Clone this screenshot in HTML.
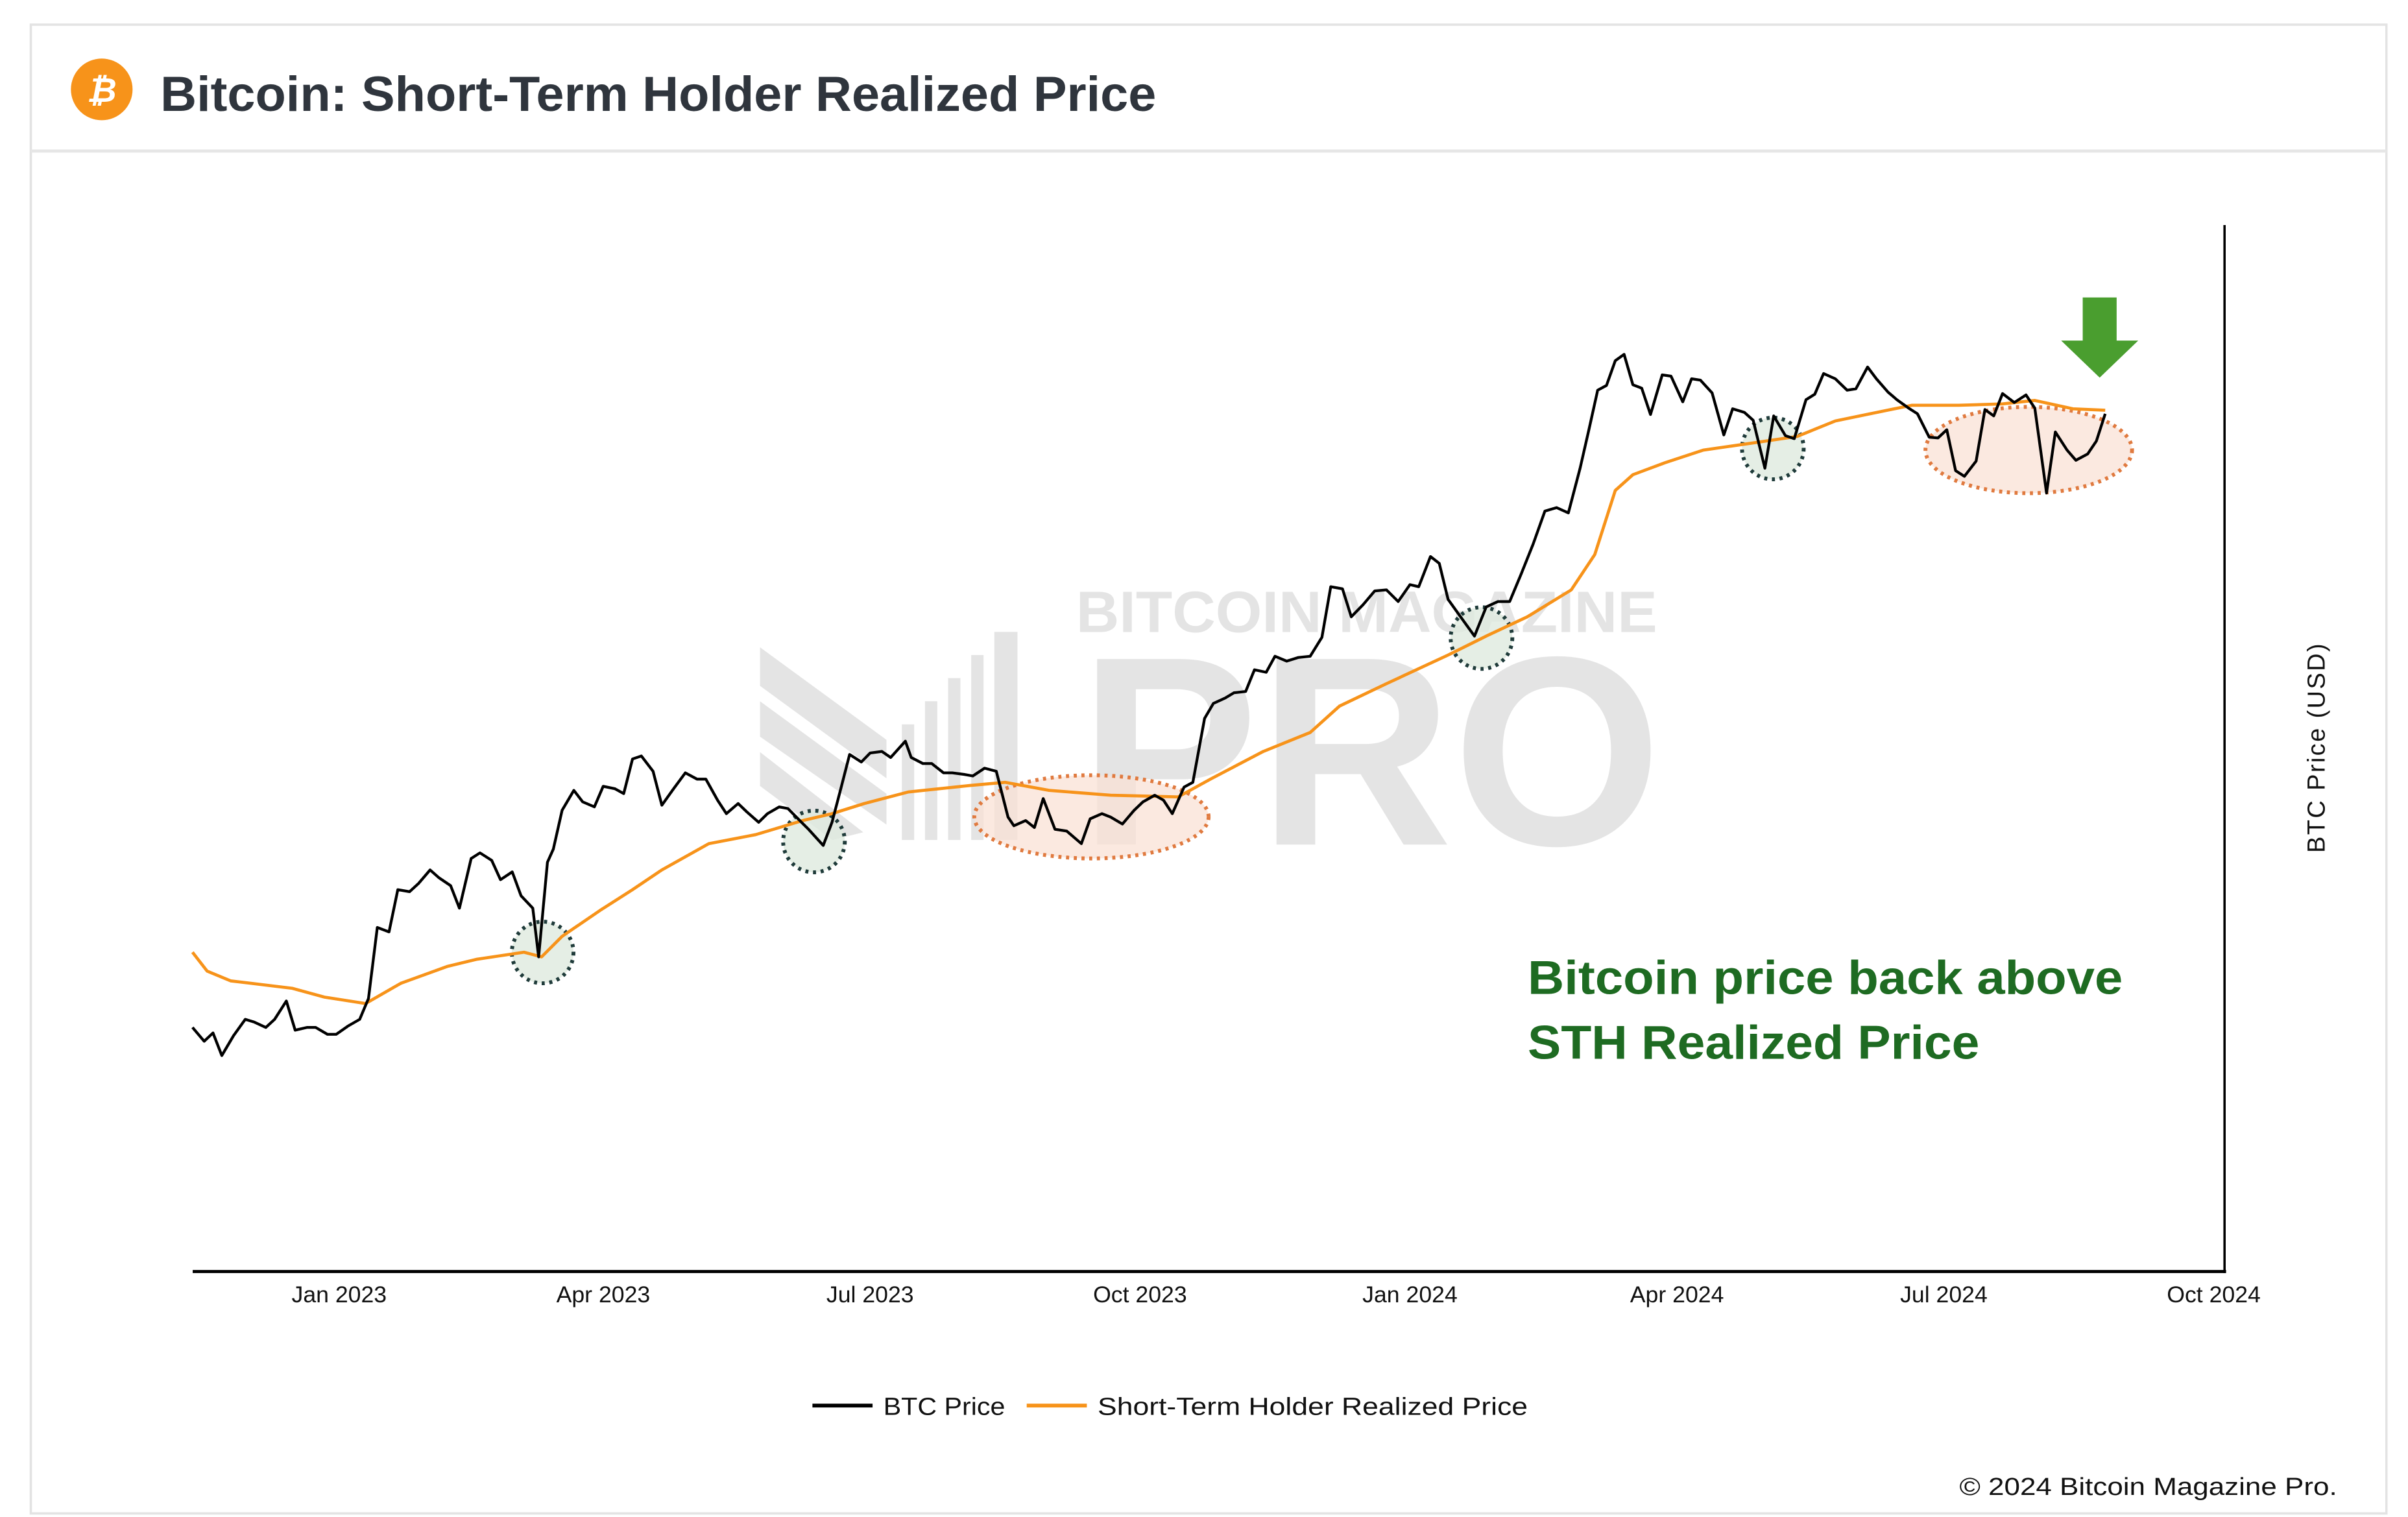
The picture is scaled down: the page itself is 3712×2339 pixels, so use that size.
<!DOCTYPE html>
<html><head><meta charset="utf-8">
<style>
html,body{margin:0;padding:0;background:#fff;}
svg{display:block;}
text{font-family:"Liberation Sans",sans-serif;}
</style></head>
<body>
<svg id="chart" width="3712" height="2339" viewBox="0 0 1562 984.3" preserveAspectRatio="none" xmlns="http://www.w3.org/2000/svg">
  <rect x="20" y="16" width="1528" height="966" fill="#fff" stroke="#e3e3e3" stroke-width="1.5"/>
  <line x1="20" y1="98" x2="1548" y2="98" stroke="#e6e6e6" stroke-width="2"/>
  <g>
    <circle cx="66" cy="58" r="20" fill="#f7931a"/>
    <text x="66" y="66" text-anchor="middle" font-size="22" font-weight="bold" fill="#fff" font-style="italic">₿</text>
  </g>
  <text x="104" y="72" font-size="32" font-weight="bold" fill="#2f353d" textLength="646" lengthAdjust="spacingAndGlyphs">Bitcoin: Short-Term Holder Realized Price</text>

  <g fill="#e4e4e4">
    <text x="698" y="410" font-size="38" font-weight="bold" textLength="377" lengthAdjust="spacingAndGlyphs">BITCOIN MAGAZINE</text>
    <text x="700" y="548" font-size="175" font-weight="bold" textLength="378" lengthAdjust="spacingAndGlyphs">PRO</text>
    <polygon points="493,420 575,480 575,505 493,445"/>
    <polygon points="493,455 575,515 575,535 493,478"/>
    <polygon points="493,488 560,540 540,545 493,510"/>
    <rect x="585" y="470" width="8" height="75"/>
    <rect x="600" y="455" width="8" height="90"/>
    <rect x="615" y="440" width="8" height="105"/>
    <rect x="630" y="425" width="8" height="120"/>
    <rect x="645" y="410" width="15" height="135"/>
  </g>

  <g id="annot-back">
    <ellipse cx="708" cy="530" rx="76" ry="27" fill="#f9e2d6" fill-opacity="0.75" stroke="#e07a3f" stroke-width="2.5" stroke-dasharray="2,3"/>
    <ellipse cx="1316" cy="292" rx="67" ry="28" fill="#f9e2d6" fill-opacity="0.75" stroke="#e07a3f" stroke-width="2.5" stroke-dasharray="2,3"/>
    <circle cx="352" cy="618" r="20" fill="#dfeadf" fill-opacity="0.8" stroke="#1f3b3a" stroke-width="2.5" stroke-dasharray="2,3"/>
    <circle cx="528" cy="546" r="20" fill="#dfeadf" fill-opacity="0.8" stroke="#1f3b3a" stroke-width="2.5" stroke-dasharray="2,3"/>
    <circle cx="961" cy="414" r="20" fill="#dfeadf" fill-opacity="0.8" stroke="#1f3b3a" stroke-width="2.5" stroke-dasharray="2,3"/>
    <circle cx="1150" cy="291" r="20" fill="#dfeadf" fill-opacity="0.8" stroke="#1f3b3a" stroke-width="2.5" stroke-dasharray="2,3"/>
  </g>

  <g id="series"></g>

  <line x1="125" y1="825" x2="1444" y2="825" stroke="#000" stroke-width="2"/>
  <line x1="1443" y1="146" x2="1443" y2="826" stroke="#000" stroke-width="1.5"/>
  <g id="xticks"></g>
  <text transform="translate(1508,485) rotate(-90)" text-anchor="middle" font-size="16" fill="#111" letter-spacing="1">BTC Price (USD)</text>

  <g fill="#4a9e2f">
    <rect x="1351" y="193" width="22" height="29"/>
    <polygon points="1337,221 1387,221 1362,245"/>
  </g>
  <text x="991" y="645" font-size="31" font-weight="bold" fill="#1e6b22" textLength="386" lengthAdjust="spacingAndGlyphs">Bitcoin price back above</text>
  <text x="991" y="687" font-size="31" font-weight="bold" fill="#1e6b22" textLength="293" lengthAdjust="spacingAndGlyphs">STH Realized Price</text>

  <g>
    <g>
      <line x1="527" y1="912" x2="566" y2="912" stroke="#000" stroke-width="2.5"/>
      <text x="573" y="918" font-size="16" fill="#111" textLength="79" lengthAdjust="spacingAndGlyphs">BTC Price</text>
    </g>
    <g>
      <line x1="666" y1="912" x2="705" y2="912" stroke="#f7931a" stroke-width="2.5"/>
      <text x="712" y="918" font-size="16" fill="#111" textLength="279" lengthAdjust="spacingAndGlyphs">Short-Term Holder Realized Price</text>
    </g>
  </g>
  <text x="1516" y="970" text-anchor="end" font-size="16" fill="#111" textLength="245" lengthAdjust="spacingAndGlyphs">© 2024 Bitcoin Magazine Pro.</text>
</svg>
<script>
const btcDates = ["2022-11-12","2022-11-16","2022-11-19","2022-11-22","2022-11-26","2022-11-30","2022-12-03","2022-12-07","2022-12-10","2022-12-14","2022-12-17","2022-12-21","2022-12-24","2022-12-28","2022-12-31","2023-01-04","2023-01-08","2023-01-11","2023-01-14","2023-01-18","2023-01-21","2023-01-25","2023-01-28","2023-02-01","2023-02-04","2023-02-08","2023-02-11","2023-02-15","2023-02-18","2023-02-22","2023-02-25","2023-03-01","2023-03-04","2023-03-08","2023-03-10","2023-03-13","2023-03-15","2023-03-18","2023-03-22","2023-03-25","2023-03-29","2023-04-01","2023-04-05","2023-04-08","2023-04-11","2023-04-14","2023-04-18","2023-04-21","2023-04-25","2023-04-29","2023-05-03","2023-05-06","2023-05-10","2023-05-13","2023-05-17","2023-05-20","2023-05-24","2023-05-27","2023-05-31","2023-06-03","2023-06-07","2023-06-10","2023-06-15","2023-06-18","2023-06-21","2023-06-24","2023-06-28","2023-07-01","2023-07-05","2023-07-08","2023-07-13","2023-07-15","2023-07-19","2023-07-22","2023-07-26","2023-07-29","2023-08-02","2023-08-05","2023-08-09","2023-08-13","2023-08-17","2023-08-19","2023-08-23","2023-08-26","2023-08-29","2023-09-02","2023-09-06","2023-09-11","2023-09-14","2023-09-18","2023-09-21","2023-09-25","2023-09-29","2023-10-02","2023-10-06","2023-10-09","2023-10-12","2023-10-16","2023-10-19","2023-10-23","2023-10-26","2023-10-30","2023-11-02","2023-11-06","2023-11-09","2023-11-13","2023-11-16","2023-11-20","2023-11-24","2023-11-28","2023-12-02","2023-12-05","2023-12-09","2023-12-12","2023-12-16","2023-12-20","2023-12-24","2023-12-28","2024-01-01","2024-01-04","2024-01-08","2024-01-11","2024-01-14","2024-01-18","2024-01-23","2024-01-27","2024-01-31","2024-02-04","2024-02-08","2024-02-12","2024-02-16","2024-02-20","2024-02-24","2024-02-28","2024-03-02","2024-03-05","2024-03-08","2024-03-11","2024-03-14","2024-03-17","2024-03-20","2024-03-23","2024-03-27","2024-03-30","2024-04-03","2024-04-06","2024-04-09","2024-04-13","2024-04-17","2024-04-20","2024-04-24","2024-04-27","2024-05-01","2024-05-04","2024-05-08","2024-05-11","2024-05-15","2024-05-18","2024-05-21","2024-05-25","2024-05-29","2024-06-01","2024-06-05","2024-06-08","2024-06-12","2024-06-15","2024-06-19","2024-06-22","2024-06-26","2024-06-29","2024-07-02","2024-07-05","2024-07-08","2024-07-12","2024-07-15","2024-07-18","2024-07-21","2024-07-25","2024-07-29","2024-08-01","2024-08-05","2024-08-08","2024-08-12","2024-08-15","2024-08-19","2024-08-22","2024-08-25"];
const btcPrice = [16800,16300,16600,15800,16500,17100,17000,16800,17100,17800,16700,16800,16800,16550,16550,16850,17100,17900,20900,20700,22700,22600,23000,23700,23300,22900,21800,24300,24600,24200,23200,23600,22400,21800,19600,24100,24800,27000,28200,27500,27200,28450,28300,28000,30200,30400,29400,27300,28300,29300,28900,28900,27600,26800,27400,26900,26300,26800,27200,27100,26400,25900,25000,26300,28300,30500,30000,30600,30700,30300,31400,30300,29900,29900,29300,29300,29200,29100,29600,29400,26600,26100,26400,26000,27700,25900,25800,25100,26500,26800,26600,26200,27000,27500,27900,27600,26800,28400,28700,33000,34100,34500,34900,35000,36700,36500,37800,37400,37700,37800,39400,44000,43800,41200,42300,43600,43700,42600,44200,44000,47000,46300,42800,41300,39500,42100,42600,42600,45300,48300,51900,52300,51700,57000,62000,67600,68300,72100,73100,68400,67900,64100,69900,69700,65900,69300,69100,67200,61300,64900,64400,63300,57000,63900,61200,60800,66200,67000,70100,69300,67600,67800,71100,69300,67300,66200,65000,64200,61000,60900,62000,56700,56000,57900,64800,63900,67100,65800,66900,65000,54000,61700,59300,58000,58800,60500,64200];
const sthDates = ["2022-11-12","2022-11-17","2022-11-25","2022-12-16","2022-12-27","2023-01-10","2023-01-22","2023-02-07","2023-02-17","2023-03-05","2023-03-11","2023-03-18","2023-03-31","2023-04-11","2023-04-21","2023-05-07","2023-05-23","2023-06-08","2023-06-18","2023-06-29","2023-07-14","2023-08-04","2023-08-16","2023-08-31","2023-09-21","2023-10-14","2023-10-25","2023-11-12","2023-11-28","2023-12-08","2023-12-24","2024-01-14","2024-01-27","2024-02-10","2024-02-25","2024-03-04","2024-03-11","2024-03-17","2024-03-28","2024-04-10","2024-04-28","2024-05-12","2024-05-25","2024-06-07","2024-06-20","2024-07-06","2024-07-21","2024-08-01","2024-08-14","2024-08-25"];
const sthPrice = [19800,19000,18600,18300,17950,17700,18500,19200,19500,19800,19600,20500,21700,22700,23700,25100,25600,26400,26800,27400,28100,28500,28700,28200,27900,27800,28900,30700,32000,33900,35600,37900,39500,41200,43700,47200,54300,56200,57700,59300,60300,61100,63200,64300,65400,65400,65600,66100,64900,64700];
const xTickLabels = ["Jan 2023","Apr 2023","Jul 2023","Oct 2023","Jan 2024","Apr 2024","Jul 2024","Oct 2024"];
const xTickDates = ["2023-01-01","2023-04-01","2023-07-01","2023-10-01","2024-01-01","2024-04-01","2024-07-01","2024-10-01"];

const NS = "http://www.w3.org/2000/svg";
const t0 = Date.UTC(2023,0,1), t1 = Date.UTC(2024,9,1);
function xScale(d){ const t = Date.parse(d+"T00:00:00Z"); return 220 + (t - t0) / (t1 - t0) * (1436 - 220); }
function yScale(v){ return 672 - 297 * Math.log(v / 16500); }
function pathFrom(dates, vals){ return dates.map((d,i)=>(i?"L":"M")+xScale(d).toFixed(2)+","+yScale(vals[i]).toFixed(2)).join(""); }

const series = document.getElementById("series");
const sth = document.createElementNS(NS,"path");


sth.setAttribute("d", pathFrom(sthDates, sthPrice));
sth.setAttribute("fill","none"); sth.setAttribute("stroke","#f7931a"); sth.setAttribute("stroke-width","2"); sth.setAttribute("stroke-linejoin","round");
series.appendChild(sth);
const btc = document.createElementNS(NS,"path");


btc.setAttribute("d", pathFrom(btcDates, btcPrice));
btc.setAttribute("fill","none"); btc.setAttribute("stroke","#000"); btc.setAttribute("stroke-width","1.8"); btc.setAttribute("stroke-linejoin","round");
series.appendChild(btc);

const xt = document.getElementById("xticks");
xTickLabels.forEach((lab,i)=>{
  const t = document.createElementNS(NS,"text");
  
  
  t.setAttribute("x", xScale(xTickDates[i]).toFixed(1));
  t.setAttribute("y","845");
  t.setAttribute("text-anchor","middle");
  t.setAttribute("font-size","15");
  t.setAttribute("fill","#111");
  t.textContent = lab;
  xt.appendChild(t);
});
</script>
</body></html>
